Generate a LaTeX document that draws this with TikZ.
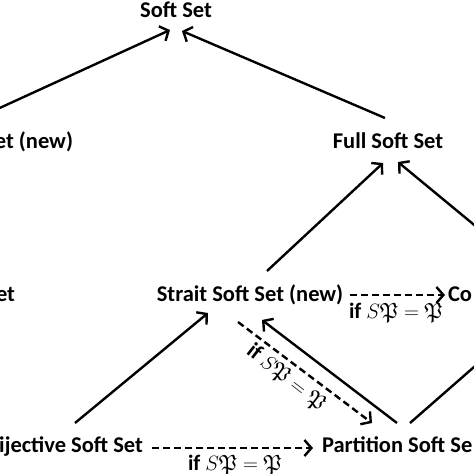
\documentclass[tikz,border=0pt]{standalone}
\usepackage{amssymb}
\usepackage{fontspec}
\setmainfont{Carlito}
\usetikzlibrary{arrows.meta}
\tikzset{
  lbl/.style={font=\fontsize{22.5}{27}\selectfont\bfseries, inner sep=0pt, outer sep=0pt},
  cond/.style={font=\fontsize{22}{26}\selectfont\bfseries, inner sep=0pt},
  conn/.style={line width=2.4pt, -{Straight Barb[length=7pt,width=16pt,line width=2.4pt]}},
  plain/.style={line width=2.4pt},
  dconn/.style={conn, dash pattern=on 7pt off 4pt}
}
\begin{document}
\begin{tikzpicture}[x=1pt,y=-1pt]
\clip (0,0) rectangle (474,474);
\fill[white] (0,0) rectangle (474,474);
% nodes
\node[lbl, anchor=base] (soft) at (176,17) {Soft Set};
\node[lbl, anchor=base] (full) at (388,148) {Full Soft Set};
\node[lbl, anchor=base east] (snew) at (73,148) {et (new)};
\node[lbl, anchor=base] (strait) at (250,301) {Strait Soft Set (new)};
\node[lbl, anchor=base east] (et) at (15,301) {et};
\node[lbl, anchor=base west] (co) at (448,301) {Co};
\node[lbl, anchor=base east] (bij) at (143,452) {ijective Soft Set};
\node[lbl, anchor=base west] (part) at (322,452) {Partition Soft Se};
% off-picture ends
\coordinate (snewend) at (-20,117);
\coordinate (rightend) at (490,238);
\coordinate (rightend2) at (490,353);
% connectors
\draw[conn] (snewend) -- ([shift={(-6,13)}]soft.base);
\draw[conn] ([shift={(-3,-30)}]full.base) -- ([shift={(6,14)}]soft.base);
\draw[conn] ([shift={(17,-30)}]strait.base) -- ([shift={(-5,15)}]full.base);
\draw[conn] (rightend) -- ([shift={(10,14)}]full.base);
\draw[dconn] ([shift={(7,-6)}]strait.base east) -- ([shift={(-3,-6)}]co.base west);
\draw[conn] ([shift={(-68,-29)}]bij.base east) -- ([shift={(-42,12)}]strait.base);
\draw[dconn] ([shift={(-12,21)}]strait.base) -- ([shift={(50,-29)}]part.base west);
\draw[conn] ([shift={(75,-29)}]part.base west) -- ([shift={(12,19)}]strait.base);
\draw[plain] ([shift={(88,-29)}]part.base west) -- (rightend2);
\draw[dconn] ([shift={(9,-4)}]bij.base east) -- ([shift={(-9,-4)}]part.base west);
% conditions
\node[cond] (c1) at (396,313) {if $S\mathfrak{P}=\mathfrak{P}$};
\node[cond, rotate=-38] (c2) at (286,378) {if $S\mathfrak{P}=\mathfrak{P}$};
\node[cond] (c3) at (235,465) {if $S\mathfrak{P}=\mathfrak{P}$};
\end{tikzpicture}
\end{document}
